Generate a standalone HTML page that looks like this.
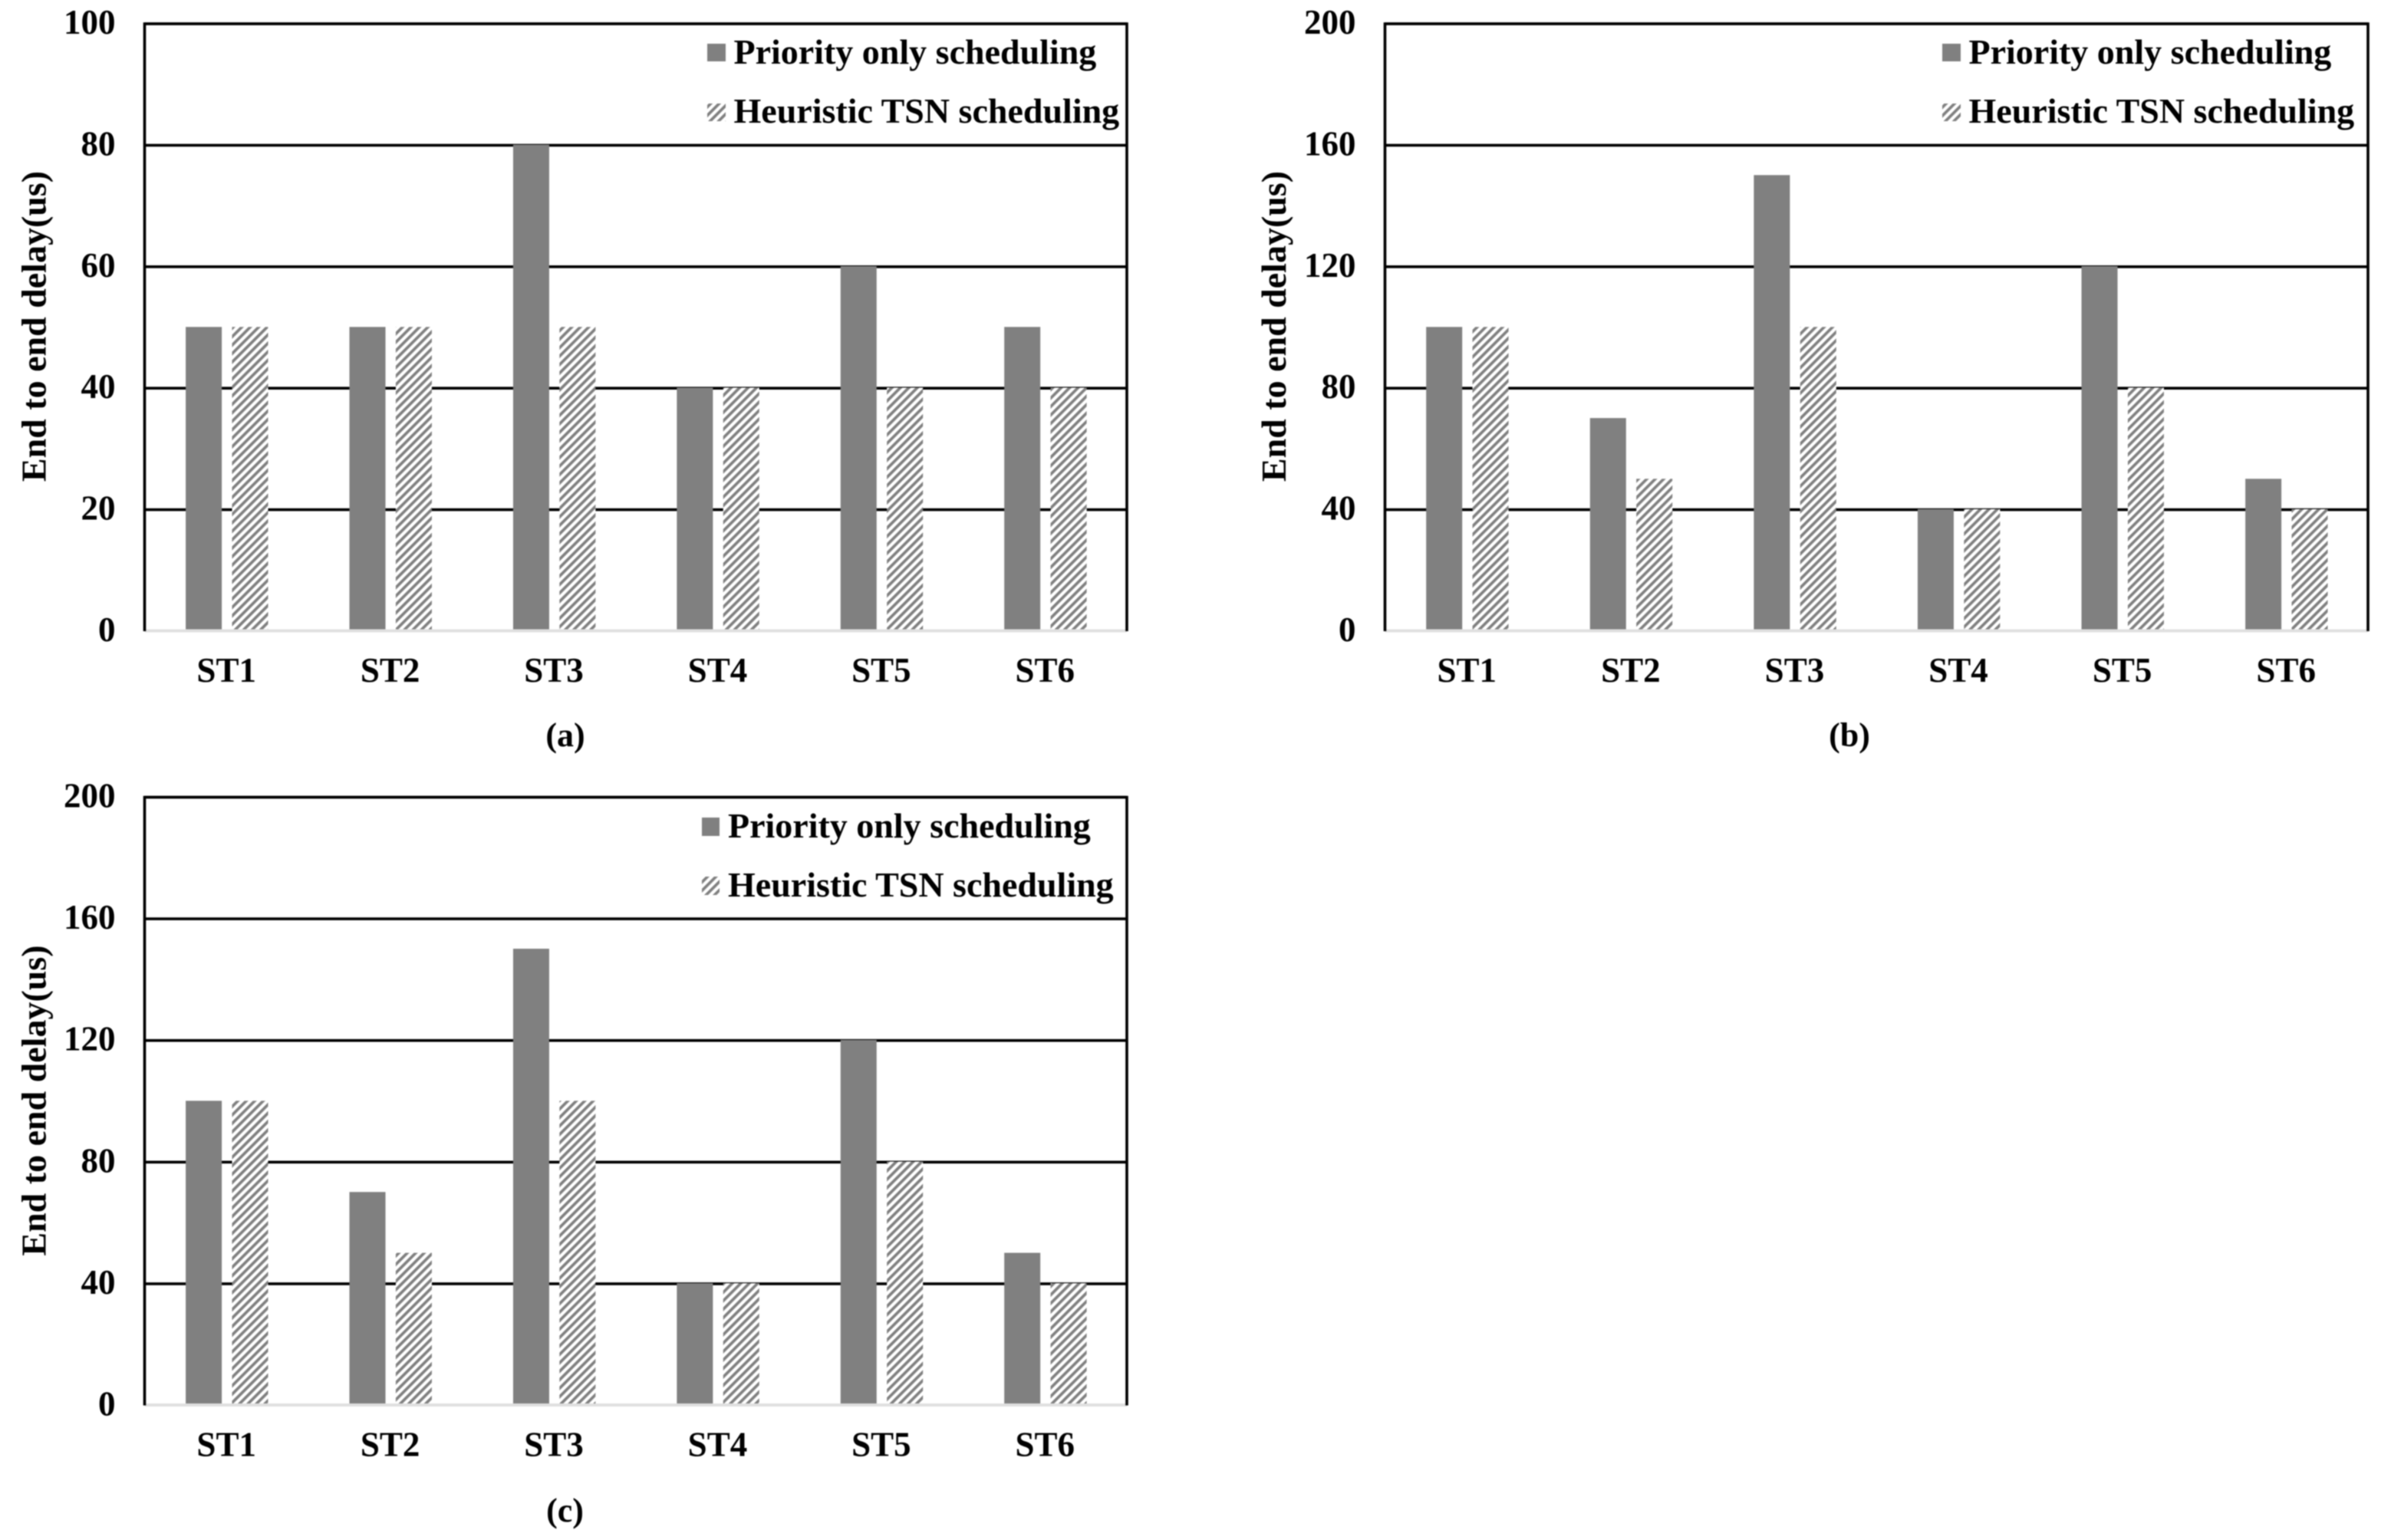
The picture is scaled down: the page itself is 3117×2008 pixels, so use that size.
<!DOCTYPE html>
<html lang="en">
<head>
<meta charset="utf-8">
<title>End to end delay charts</title>
<style>
html,body{margin:0;padding:0;background:#fff;width:3117px;height:2008px;overflow:hidden}
svg{display:block;filter:blur(0.8px)}
text{font-family:"Liberation Serif","Times New Roman",serif;font-weight:bold;fill:#000}
.tick{font-size:45px;text-anchor:end}
.cat{font-size:45px;text-anchor:middle}
.ytitle{font-size:46px;text-anchor:middle}
.legend{font-size:46px}
.panel-label{font-size:44px;text-anchor:middle}
</style>
</head>
<body>
<svg id="figure" xmlns="http://www.w3.org/2000/svg" width="3117" height="2008" viewBox="0 0 3117 2008">
  <defs>
    <pattern id="hatch" patternUnits="userSpaceOnUse" width="7.8" height="7.8" patternTransform="rotate(45)">
      <rect width="7.8" height="7.8" fill="#fff"/>
      <rect width="3.7" height="7.8" fill="#808080"/>
    </pattern>
  </defs>
  <rect width="3117" height="2008" fill="#fff"/>

  <g id="panel-a"></g>
  <g id="panel-b"></g>
  <g id="panel-c"></g>

  <text class="ytitle" transform="translate(59.5,425.5) rotate(-90)">End to end delay(us)</text>
  <text class="ytitle" transform="translate(1676,425.5) rotate(-90)">End to end delay(us)</text>
  <text class="ytitle" transform="translate(59.5,1435) rotate(-90)">End to end delay(us)</text>

  <g>
    <rect x="922" y="57" width="24" height="23" fill="#808080"/>
    <text class="legend" x="956.5" y="83">Priority only scheduling</text>
    <rect x="922" y="135" width="24" height="23" fill="url(#hatch)"/>
    <text class="legend" x="956.5" y="160">Heuristic TSN scheduling</text>
  </g>
  <g>
    <rect x="2532" y="57" width="24" height="23" fill="#808080"/>
    <text class="legend" x="2566.5" y="83">Priority only scheduling</text>
    <rect x="2532" y="135" width="24" height="23" fill="url(#hatch)"/>
    <text class="legend" x="2566.5" y="160">Heuristic TSN scheduling</text>
  </g>
  <g>
    <rect x="915" y="1066" width="23" height="24" fill="#808080"/>
    <text class="legend" x="949" y="1092">Priority only scheduling</text>
    <rect x="915" y="1143" width="23" height="24" fill="url(#hatch)"/>
    <text class="legend" x="949" y="1169">Heuristic TSN scheduling</text>
  </g>

  <text class="panel-label" x="737" y="973">(a)</text>
  <text class="panel-label" x="2411" y="973">(b)</text>
  <text class="panel-label" x="736.5" y="1984">(c)</text>
</svg>

<script>
const categories = ['ST1', 'ST2', 'ST3', 'ST4', 'ST5', 'ST6'];

const priorityA = [50, 50, 80, 40, 60, 50];
const heuristicA = [50, 50, 50, 40, 40, 40];
const ticksA = [0, 20, 40, 60, 80, 100];

const priorityB = [100, 70, 150, 40, 120, 50];
const heuristicB = [100, 50, 100, 40, 80, 40];
const ticksB = [0, 40, 80, 120, 160, 200];

const priorityC = [100, 70, 150, 40, 120, 50];
const heuristicC = [100, 50, 100, 40, 80, 40];
const ticksC = [0, 40, 80, 120, 160, 200];

const SVG_NS = 'http://www.w3.org/2000/svg';
const BAR_WIDTH = 47;
const PRIORITY_OFFSET = 29.6;
const HEURISTIC_OFFSET = 30.8;

function make(tag, attrs, parent) {
  const node = document.createElementNS(SVG_NS, tag);
  for (const key in attrs) node.setAttribute(key, attrs[key]);
  parent.appendChild(node);
  return node;
}

function drawChart(id, frame, priority, heuristic, ticks) {
  const root = document.getElementById(id);
  const yMax = ticks[ticks.length - 1];
  const yScale = v => frame.zero - (v / yMax) * (frame.zero - frame.top);
  const step = (frame.right - frame.left) / categories.length;
  const xCenter = i => frame.left + step * (i + 0.5);

  ticks.forEach(t => {
    const y = yScale(t);
    if (t !== 0) {
      const line = make('line', {x1: frame.left, x2: frame.right, y1: y, y2: y, stroke: '#000', 'stroke-width': 3.6}, root);
      
      
    }
    const label = make('text', {x: frame.left - 38, y: y + 13, class: 'tick'}, root);
    label.textContent = t;
    
    
  });

  categories.forEach((name, i) => {
    const cx = xCenter(i);
    const yP = yScale(priority[i]) - 0.7;
    const barP = make('rect', {x: cx - PRIORITY_OFFSET - BAR_WIDTH / 2, y: yP, width: BAR_WIDTH, height: frame.zero - yP, fill: '#808080'}, root);
    
    
    const yH = yScale(heuristic[i]) - 0.7;
    const barH = make('rect', {x: cx + HEURISTIC_OFFSET - BAR_WIDTH / 2, y: yH, width: BAR_WIDTH, height: frame.zero - yH, fill: 'url(#hatch)'}, root);
    
    
    const cat = make('text', {x: cx, y: frame.zero + 66, class: 'cat'}, root);
    cat.textContent = name;
    
    
  });

  const base = make('line', {x1: frame.left, x2: frame.right, y1: frame.zero - 0.5, y2: frame.zero - 0.5, stroke: '#e0e0e0', 'stroke-width': 4}, root);
  
  
  const box = make('path', {d: `M${frame.left} ${frame.zero}V${frame.top}H${frame.right}V${frame.zero}`, fill: 'none', stroke: '#000', 'stroke-width': 3.6}, root);
  
  
}

drawChart('panel-a', {left: 188.5, right: 1469, top: 31, zero: 823}, priorityA, heuristicA, ticksA);
drawChart('panel-b', {left: 1805.5, right: 3087, top: 31, zero: 823}, priorityB, heuristicB, ticksB);
drawChart('panel-c', {left: 188.5, right: 1469, top: 1039.5, zero: 1832.5}, priorityC, heuristicC, ticksC);
</script>
</body>
</html>
